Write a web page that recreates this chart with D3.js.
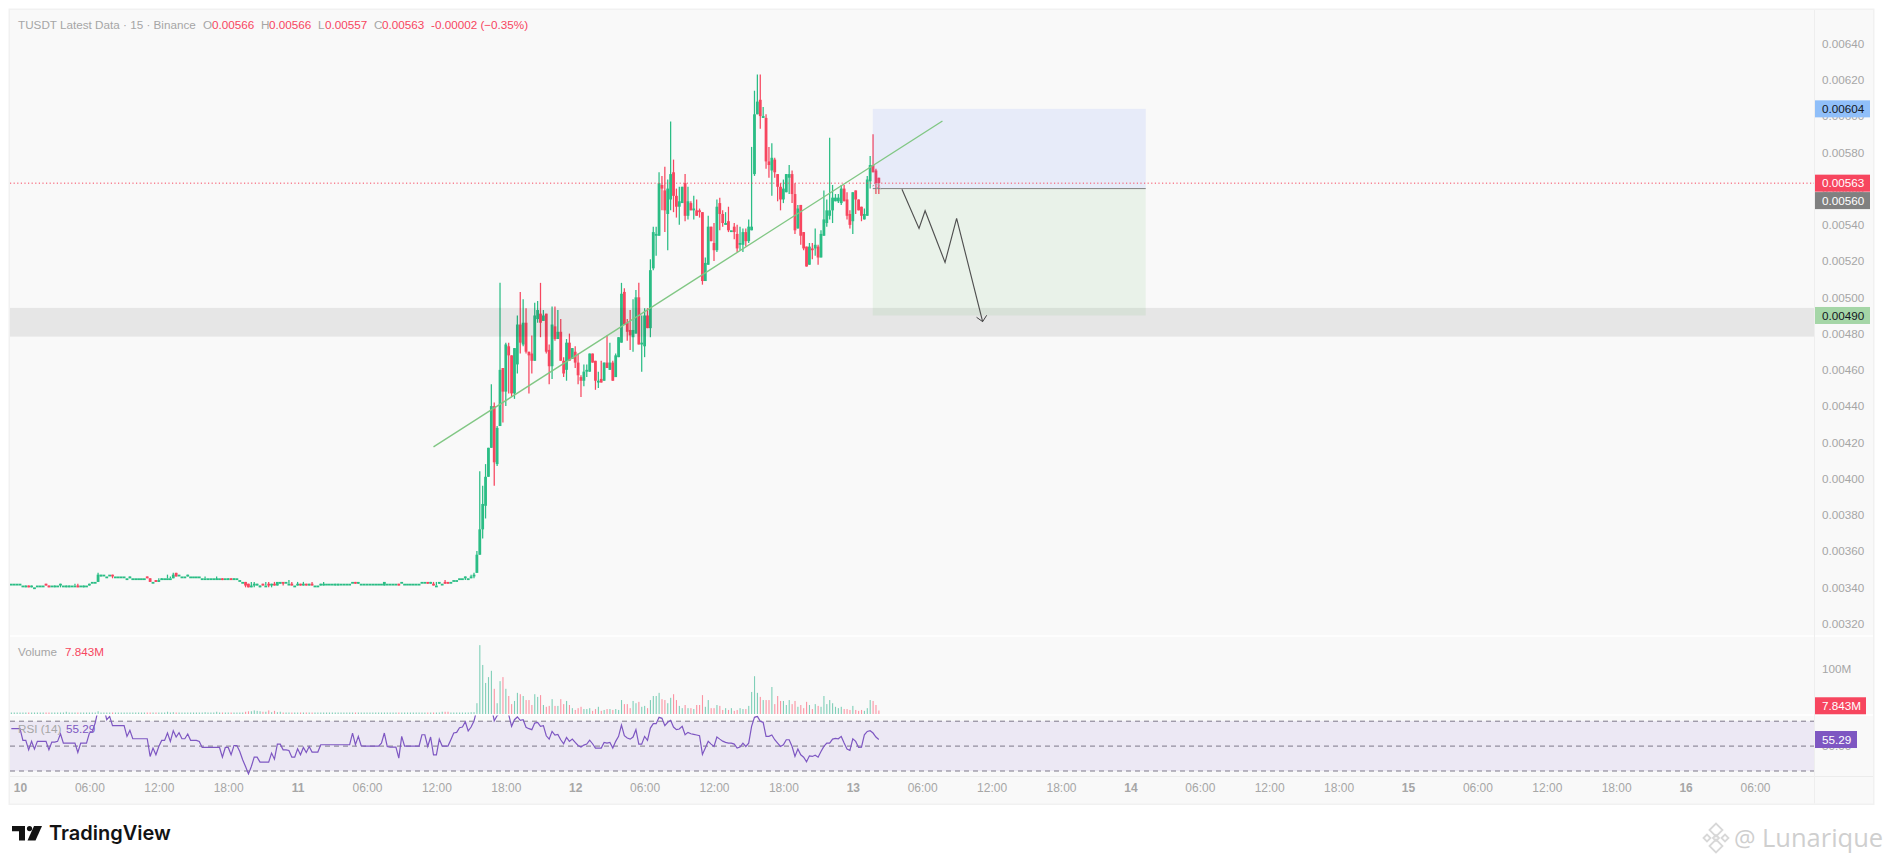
<!DOCTYPE html>
<html>
<head>
<meta charset="utf-8">
<title>TUSDT Latest Data</title>
<script src="https://cdn.jsdelivr.net/npm/d3@7"></script>
<style>
  html, body { margin: 0; padding: 0; background: #fff; }
  svg { display: block; font-family: "Liberation Sans", Arial, sans-serif; }
</style>
</head>
<body>
<div class="chart"></div>
<script>
const w = 1884;
const h = 864;

// prices are in units of 0.00001, one row = 10 bars, 15 minute candles
const firstBar = -3; // bar 0 is 10th 00:00
const opens = [
  342,342,342,342,341,341,341,340,340,341,
  341,341,342,341,341,341,341,341,341,340,
  340,341,341,341,341,340,341,341,343,343,
  343,346,347,346,347,347,346,346,346,346,
  345,345,345,345,345,345,345,346,345,343,
  344,343,344,345,345,345,345,348,347,346,
  346,346,346,346,346,346,345,345,345,345,
  345,345,345,345,345,344,345,344,345,344,
  343,343,342,340,341,341,341,342,341,342,
  341,342,341,342,343,343,342,342,341,341,
  342,341,342,341,342,341,341,341,341,342,
  342,342,342,342,342,342,342,342,343,343,
  342,342,342,342,342,342,342,342,342,341,
  342,342,342,342,342,343,342,342,342,342,
  342,342,343,343,343,342,342,341,342,342,
  343,343,343,344,344,345,345,345,345,346,
  347,348,358,372,385,401,417,440,408,429,
  461,448,473,468,447,463,485,474,486,470,
  469,465,488,491,487,491,471,462,484,477,
  481,465,460,475,466,470,464,456,454,459,
  459,469,465,453,455,454,464,460,464,456,
  467,475,503,486,482,478,480,500,474,473,
  490,483,516,534,534,562,559,546,554,569,
  556,550,552,563,545,552,548,548,548,547,
  509,518,539,530,526,552,546,540,542,537,
  539,535,529,529,536,531,537,568,601,609,
  599,599,575,570,576,568,561,554,558,566,
  568,557,538,551,536,528,518,527,527,528,
  522,534,541,545,548,553,553,552,560,554,
  546,542,559,554,550,543,545,564,573,570,
  566
];
const closes = [
  342,342,342,342,341,341,340,341,340,341,
  341,341,341,340,341,341,341,342,341,341,
  341,341,341,340,341,341,341,342,343,343,
  347,347,347,346,347,346,346,346,346,346,
  345,346,345,345,345,345,345,345,343,343,
  343,344,345,345,345,345,347,346,347,346,
  346,347,346,346,346,346,345,345,345,345,
  345,345,345,344,345,345,344,345,345,344,
  343,341,340,341,342,342,341,341,341,341,
  342,341,343,343,342,343,342,341,341,342,
  341,342,341,342,341,341,341,342,342,342,
  342,342,342,342,342,342,342,342,343,342,
  343,342,342,342,342,342,342,342,342,343,
  342,342,342,342,341,343,342,342,342,342,
  342,342,343,343,342,343,341,341,343,342,
  342,342,343,344,344,345,345,346,345,346,
  347,358,372,386,401,417,440,409,428,460,
  448,474,468,447,472,485,475,486,470,468,
  465,490,493,486,490,470,462,485,477,481,
  465,458,475,465,472,464,457,454,459,460,
  469,464,454,454,453,464,461,464,454,468,
  478,502,485,481,479,482,500,474,475,490,
  483,515,536,535,563,560,548,560,568,556,
  550,553,561,545,553,548,549,545,547,509,
  519,539,531,526,550,546,541,541,537,537,
  536,527,530,536,531,539,539,601,608,600,
  600,575,573,577,569,561,554,560,568,568,
  557,537,549,534,527,517,528,526,529,522,
  535,543,548,548,555,555,555,560,553,545,
  540,558,554,548,545,546,565,573,569,563,
  563
];
const highs = [
  342,342,342,342,341,341,341,341,340,341,
  341,341,342,341,341,341,341,342,341,341,
  341,341,342,342,341,341,341,342,343,343,
  348,347,347,346,347,347,346,346,346,346,
  345,346,345,345,345,345,345,346,345,343,
  344,345,345,345,347,346,348,348,347,346,
  346,347,346,346,346,346,345,346,345,345,
  345,346,345,345,345,345,345,345,345,344,
  343,343,342,343,343,342,341,342,343,343,
  342,343,343,343,343,343,344,343,341,343,
  342,343,342,342,343,341,341,342,343,342,
  342,342,342,342,342,342,342,342,343,343,
  343,342,342,342,342,342,342,342,342,343,
  342,342,342,342,342,343,342,342,342,342,
  342,342,343,343,343,343,343,343,343,342,
  344,343,343,344,344,345,345,346,345,347,
  348,360,404,396,408,417,452,442,429,508,
  461,475,475,468,472,490,503,499,494,470,
  479,497,498,508,493,491,474,495,495,493,
  488,467,477,480,472,473,469,457,463,463,
  469,469,465,459,465,464,479,475,465,469,
  478,508,505,488,493,499,504,508,490,494,
  494,521,539,539,569,567,572,565,597,576,
  560,561,561,568,561,553,556,554,549,547,
  522,545,539,541,554,555,548,547,550,537,
  541,540,539,538,538,543,583,614,623,623,
  605,601,583,585,577,568,563,565,568,573,
  570,563,551,551,536,528,530,530,538,529,
  537,559,554,588,562,557,557,562,562,558,
  548,558,559,554,550,549,567,578,590,571,
  566
];
const lows = [
  342,342,342,342,341,340,340,340,340,341,
  341,341,341,340,341,340,341,340,341,340,
  340,341,341,340,341,340,341,341,343,343,
  343,346,347,346,347,345,346,346,346,346,
  345,345,345,345,345,345,345,345,343,343,
  343,343,344,345,345,345,345,346,347,346,
  346,346,346,346,346,346,345,345,345,345,
  345,344,345,344,345,344,344,344,345,344,
  343,340,340,340,340,341,340,341,341,340,
  340,341,341,342,341,343,342,341,341,341,
  341,341,341,341,341,341,341,341,341,342,
  342,342,341,341,342,342,342,342,343,342,
  342,342,342,342,342,342,342,342,342,341,
  342,342,342,342,341,343,342,342,342,342,
  342,342,343,343,342,342,341,341,342,342,
  342,342,343,344,344,345,345,344,345,345,
  345,348,358,367,378,401,417,396,407,429,
  431,440,447,445,444,458,469,473,469,447,
  458,465,486,478,487,469,452,455,476,477,
  465,456,454,465,466,461,452,445,451,456,
  459,464,449,450,453,454,461,460,454,456,
  467,475,485,476,471,470,480,474,459,467,
  483,478,515,523,534,548,536,526,548,547,
  544,540,552,542,543,548,543,545,544,507,
  509,518,531,520,525,537,539,540,536,537,
  532,525,526,525,528,530,537,567,601,593,
  599,571,566,556,566,553,548,552,558,557,
  552,535,538,529,526,517,518,521,523,518,
  522,534,539,543,541,553,552,551,553,543,
  538,535,546,548,542,543,545,560,569,557,
  557
];
// millions
const volumes = [
  2,2,2,2,2,2,2,2,2,2,
  2,2,2,2,2,2,2,2,2,5,
  2,2,2,2,2,2,2,2,2,2,
  6,3,2,2,2,2,3,2,2,2,
  2,2,2,2,2,2,2,2,2,2,
  2,2,2,2,5,2,4,3,2,2,
  2,2,2,2,2,2,2,4,2,2,
  2,5,2,2,2,2,2,2,2,2,
  2,5,6,6,8,7,6,5,5,8,
  4,7,4,5,2,2,2,2,2,2,
  2,2,2,2,2,2,2,2,2,2,
  2,2,2,2,2,2,2,2,2,2,
  2,2,2,2,2,2,2,2,2,2,
  2,2,2,2,2,2,2,2,2,2,
  2,2,2,2,2,2,2,2,2,5,
  5,5,2,2,2,2,2,2,2,4,
  4,24,153,109,69,82,96,56,24,73,
  82,56,40,22,29,47,44,40,31,31,
  20,44,38,42,20,16,18,33,18,18,
  33,22,29,20,13,9,13,16,11,11,
  13,7,11,16,7,9,11,11,9,11,
  9,31,22,22,13,29,24,27,16,18,
  13,31,40,40,47,33,31,24,36,44,
  31,18,13,20,13,13,11,20,20,42,
  16,31,13,13,20,18,9,13,9,13,
  7,9,13,11,11,18,49,84,47,38,
  31,31,31,60,22,40,29,29,20,31,
  22,29,16,20,13,27,20,11,22,18,
  16,40,22,31,24,16,13,16,11,11,
  9,18,9,7,9,7,13,31,29,20,
  7.843
];
const rsi = [
  64,64,64,64,54.6,54.6,47,53.8,47.6,53.8,
  53.8,53.8,53.8,47,53.2,53.2,53.8,59.9,52.4,52.4,
  52.4,52.4,52.4,44.9,52.4,52.4,52.4,60.5,61.8,68.5,
  79.3,80.6,80.6,71.2,73.9,66.4,66.4,66.4,66.4,66.4,
  57.8,62.6,55.9,55.9,55.9,55.9,55.9,55.9,41.7,48.4,
  43,49.7,54.6,54.6,60.5,53.8,62.4,57.3,60.8,55.9,
  55.9,59.7,54.6,54.6,54.6,53.8,48.9,48.9,48.9,48.9,
  48.9,48.9,48.9,41.1,48.9,48.9,43,50.5,50.5,45.7,
  39,33.6,27.7,33.6,41.1,41.1,37.1,37.1,37.1,37.1,
  44.4,39.5,51.6,51.6,47,47,46.5,41.1,41.1,47.8,
  43,48.9,44.9,49.7,45.2,45.2,45.2,51.1,51.1,51.1,
  51.1,51.1,51.1,51.1,51.1,51.1,51.1,51.1,60.5,51.1,
  57.8,50.3,50,50,50,50,50,50,52.4,60.5,
  49.7,49.2,49.2,49.2,40.3,57.8,50,50,50,50,
  50,50,59.1,59.1,49.7,57.3,43,43,55.6,50,
  50,50,55.1,60.5,61,64.8,65.3,69.6,62.1,65.3,
  70.2,79.3,86,91.4,88.7,86,82,70.4,74.5,76.6,
  75.3,76.6,75.3,65.9,71.2,73.4,70.7,71.2,65.1,64,
  63.2,68.5,69.1,65.9,66.4,58.3,55.6,61.8,58.9,59.4,
  55.1,51.9,57,53.8,55.6,53,50.5,49.2,50.8,51.6,
  54.8,51.9,48.4,48.4,48.4,53,52.4,53,48.4,53.8,
  57.8,66.9,58.3,56.5,55.6,57.3,63.2,51.6,51.6,57.8,
  54.6,64.5,68,68,73.1,72.3,66.4,69.1,70.7,65.3,
  63.2,63.7,65.9,59.1,61,59.9,59.4,58.9,58.3,43.3,
  48.4,53.8,51.6,49.7,57.3,55.6,54,53,52.4,52.4,
  51.6,48.4,49.2,52.4,49.7,52.4,65.9,73.1,73.9,69.9,
  69.1,57.8,57.8,58.9,55.1,52.4,49.7,51.1,55.1,55.1,
  49.7,41.7,47.6,43,41.1,37.4,42.2,41.7,42.7,41.1,
  45.7,49.7,52.4,52.4,55.6,56.2,55.9,57.8,52.4,47.6,
  46.5,55.9,53.8,48.9,49.2,59.1,61.8,62.4,60.5,57.3,
  55.29
];

const priceTicks = [320,340,360,380,400,420,440,460,480,500,520,540,560,580,600,620,640];
const timeLabels = ['10','06:00','12:00','18:00','11','06:00','12:00','18:00','12','06:00','12:00','18:00','13','06:00','12:00','18:00','14','06:00','12:00','18:00','15','06:00','12:00','18:00','16','06:00'];
const timeTicks = timeLabels.map((d, i) => i * 24);
const rsiLevels = [70, 50, 30];

// drawings, [bar, price]
const lastPrice = 563;
const zone = [478.3, 494.2];
const position = { left: 294.9, right: 389.3, top: 604, entry: 560, target: 490 };
const trendBars = [143, 319];
const trendPrices = [417.5, 597.3];
const zigBars = [305, 310.9, 313, 319.9, 323.9, 332.9];
const zigPrices = [559.6, 538, 547.8, 519.3, 543.6, 486.6];
const headBars = [330.8, 332.9, 334.3];
const headPrices = [489, 486.6, 490.1];
const hintBars = [294.8, 296.3, 296.3, 296.9, 297.7];
const hintPrices = [561.4, 562.5, 559.6, 562.9, 559.6];

const green = '#2bbd85';
const red = '#f7465f';
const textGrey = '#a6a6a6';
const purple = '#7e57c2';

const paneLeft = 10;
const paneRight = 1814;

const svg = d3.select('.chart').append('svg').attr('width', w).attr('height', h);

// scales
const x = d3.scaleLinear().domain([0, 576]).range([20, 1685.6]);
const y = d3.scaleLinear().domain([320, 640]).range([623.6, 43.6]);
const yVol = d3.scaleLinear().domain([0, 100]).range([714, 669]);
const yRsi = d3.scaleLinear().domain([30, 70]).range([771, 721.2]);

const bars = opens.map((o, i) => ({
  bar: i + firstBar, o, c: closes[i], hi: highs[i], lo: lows[i], v: volumes[i], r: rsi[i]
}));

// background
svg.append('rect').attr('x', 8.5).attr('y', 8.5).attr('width', 1866).attr('height', 796.5).attr('fill', '#f1f1f1');
svg.append('rect').attr('x', paneLeft).attr('y', 10).attr('width', 1863).attr('height', 793.5).attr('fill', '#f9f9f9');

const defs = svg.append('defs');
defs.append('clipPath').attr('id', 'main-clip').append('rect')
  .attr('x', paneLeft).attr('y', 10).attr('width', paneRight - paneLeft).attr('height', 625);
defs.append('clipPath').attr('id', 'rsi-clip').append('rect')
  .attr('x', paneLeft).attr('y', 715.5).attr('width', paneRight - paneLeft).attr('height', 60);

// candles
const main = svg.append('g').attr('clip-path', 'url(#main-clip)');
main.append('g').selectAll('line').data(bars).enter().append('line')
  .attr('x1', (d) => x(d.bar)).attr('x2', (d) => x(d.bar))
  .attr('y1', (d) => y(d.hi)).attr('y2', (d) => y(d.lo))
  .attr('stroke', (d) => (d.c < d.o ? red : green)).attr('stroke-width', 1.25);
main.append('g').selectAll('rect').data(bars).enter().append('rect')
  .attr('x', (d) => x(d.bar) - 1.4).attr('width', 2.8)
  .attr('y', (d) => y(Math.max(d.o, d.c)))
  .attr('height', (d) => Math.max(1.8, Math.abs(y(d.o) - y(d.c))))
  .attr('fill', (d) => (d.c < d.o ? red : green));

// support zone
main.append('rect').attr('x', paneLeft).attr('width', paneRight - paneLeft)
  .attr('y', y(zone[1])).attr('height', y(zone[0]) - y(zone[1]))
  .attr('fill', '#000').attr('fill-opacity', 0.075);

// position tool
main.append('rect').attr('x', x(position.left)).attr('width', x(position.right) - x(position.left))
  .attr('y', y(position.top)).attr('height', y(position.entry) - y(position.top))
  .attr('fill', '#2962ff').attr('fill-opacity', 0.085);
main.append('rect').attr('x', x(position.left)).attr('width', x(position.right) - x(position.left))
  .attr('y', y(position.entry)).attr('height', y(position.target) - y(position.entry))
  .attr('fill', '#4caf50').attr('fill-opacity', 0.09);
main.append('line').attr('x1', x(position.left)).attr('x2', x(position.right))
  .attr('y1', y(position.entry)).attr('y2', y(position.entry))
  .attr('stroke', '#808080').attr('stroke-width', 1);

// last price
main.append('line').attr('x1', paneLeft).attr('x2', paneRight)
  .attr('y1', y(lastPrice)).attr('y2', y(lastPrice))
  .attr('stroke', red).attr('stroke-width', 1).attr('stroke-dasharray', '1.2 2.4');

// trend line
main.append('path')
  .attr('d', d3.line().x((d) => x(d)).y((d, i) => y(trendPrices[i]))(trendBars))
  .attr('fill', 'none').attr('stroke', '#81c784').attr('stroke-width', 1.4);

// projected path with arrow
const zigLine = d3.line().x((d) => x(d.b)).y((d) => y(d.p));
main.append('path')
  .attr('d', zigLine(zigBars.map((b, i) => ({ b, p: zigPrices[i] }))))
  .attr('fill', 'none').attr('stroke', '#505050').attr('stroke-width', 1.15);
main.append('path')
  .attr('d', zigLine(headBars.map((b, i) => ({ b, p: headPrices[i] }))))
  .attr('fill', 'none').attr('stroke', '#404040').attr('stroke-width', 1);
main.append('path')
  .attr('d', zigLine(hintBars.map((b, i) => ({ b, p: hintPrices[i] }))))
  .attr('fill', 'none').attr('stroke', '#a8a8a8').attr('stroke-width', 1).attr('stroke-dasharray', '2 1.5');

// volume bars
svg.append('g').selectAll('rect').data(bars).enter().append('rect')
  .attr('x', (d) => x(d.bar) - 0.5).attr('width', 1.1)
  .attr('y', (d) => Math.min(yVol(d.v), yVol(0) - 1.5))
  .attr('height', (d) => Math.max(1.5, yVol(0) - yVol(d.v)))
  .attr('fill', (d) => (d.c < d.o ? '#fb94a3' : '#80cfb8'));

// pane separators
[636, 715].forEach((sy) => {
  svg.append('line').attr('x1', paneLeft).attr('x2', 1873).attr('y1', sy).attr('y2', sy)
    .attr('stroke', '#fff').attr('stroke-width', 1.6);
});
svg.append('line').attr('x1', paneLeft).attr('x2', 1873).attr('y1', 776.5).attr('y2', 776.5).attr('stroke', '#ececec');
svg.append('line').attr('x1', paneRight + 0.5).attr('x2', paneRight + 0.5).attr('y1', 10).attr('y2', 803.5).attr('stroke', '#eeeeee');

// rsi pane
svg.append('rect').attr('x', paneLeft).attr('width', paneRight - paneLeft)
  .attr('y', yRsi(70)).attr('height', yRsi(30) - yRsi(70))
  .attr('fill', '#ece8f4');
svg.append('g').selectAll('line').data(rsiLevels).enter().append('line')
  .attr('x1', paneLeft).attr('x2', paneRight)
  .attr('y1', (d) => yRsi(d)).attr('y2', (d) => yRsi(d))
  .attr('stroke', '#7d7888').attr('stroke-width', 1).attr('stroke-dasharray', '5 4');
svg.append('g').attr('clip-path', 'url(#rsi-clip)').append('path')
  .attr('d', d3.line().x((d) => x(d.bar)).y((d) => yRsi(d.r))(bars))
  .attr('fill', 'none').attr('stroke', purple).attr('stroke-width', 1.2);

// axes
function styleAxis(g) {
  g.select('.domain').remove();
  g.selectAll('.tick line').remove();
  g.selectAll('text').attr('fill', textGrey).style('font-size', '11.7px')
    .style('font-family', '"Liberation Sans", Arial, sans-serif');
}
svg.append('g').attr('transform', `translate(${paneRight},0)`)
  .call(d3.axisRight(y).tickValues(priceTicks).tickSize(0).tickPadding(8).tickFormat((d) => (d / 1e5).toFixed(5)))
  .call(styleAxis);
svg.append('g').attr('transform', `translate(${paneRight},0)`)
  .call(d3.axisRight(yVol).tickValues([100]).tickSize(0).tickPadding(8).tickFormat((d) => d + 'M'))
  .call(styleAxis);
svg.append('g').attr('transform', `translate(${paneRight},0)`)
  .call(d3.axisRight(yRsi).tickValues([50]).tickSize(0).tickPadding(8).tickFormat((d) => d.toFixed(2)))
  .call(styleAxis);
svg.append('g').attr('transform', 'translate(0,777)')
  .call(d3.axisBottom(x).tickValues(timeTicks).tickSize(0).tickPadding(6).tickFormat((d, i) => timeLabels[i]))
  .call(styleAxis)
  .selectAll('text')
  .style('font-size', '12px')
  .style('font-weight', (d, i) => (timeLabels[i].length < 3 ? 700 : 400));

// price badges, the 0.00560 and 7.843M ones get pushed off their level so they do not cover a neighbour
function badge(label, sy, bw, fill, color) {
  svg.append('rect').attr('x', 1815).attr('y', sy - 8.5).attr('width', bw).attr('height', 17).attr('fill', fill);
  svg.append('text').attr('x', 1822).attr('y', sy + 4.2).attr('fill', color)
    .style('font-size', '11.7px').text(label);
}
badge('0.00604', y(604), 55, '#90bff9', '#131722');
badge('0.00490', y(490), 55, '#a5d6a7', '#131722');
badge('0.00563', y(563), 55, red, '#fff');
badge('0.00560', y(560) + 12, 55, '#808080', '#fff');
badge('7.843M', yVol(7.843) - 4.7, 51, red, '#fff');
badge('55.29', yRsi(55.29), 42, purple, '#fff');

// legends
function legend(runs, ly) {
  runs.forEach((r) => {
    svg.append('text').attr('x', r[0]).attr('y', ly).attr('fill', r[2]).style('font-size', '11.7px').text(r[1]);
  });
}
legend([
  [18, 'TUSDT Latest Data · 15 · Binance', textGrey],
  [203, 'O', textGrey], [212, '0.00566', red],
  [261, 'H', textGrey], [269, '0.00566', red],
  [318, 'L', textGrey], [325, '0.00557', red],
  [374, 'C', textGrey], [382, '0.00563', red],
  [431, '-0.00002 (−0.35%)', red]
], 29);
legend([[18, 'Volume', textGrey], [65, '7.843M', red]], 656);
legend([[18, 'RSI (14)', textGrey], [66, '55.29', purple]], 733);

// logo
const logo = svg.append('g').attr('fill', '#131313');
logo.append('path').attr('d', 'M12 826h13v14.5h-6v-9.3h-7z');
logo.append('circle').attr('cx', 29.5).attr('cy', 828.6).attr('r', 2.6);
logo.append('path').attr('d', 'M34 826h8l-6.5 14.5h-8z');
svg.append('text').attr('x', 49).attr('y', 840).attr('fill', '#131313')
  .style('font-family', 'Inter, Roboto, sans-serif').style('font-weight', 600).style('font-size', '20px')
  .text('TradingView');

// watermark
const mark = svg.append('g').attr('fill', 'none').attr('stroke', '#d8d8d8').attr('stroke-width', 1.8);
[[1716, 830, 6.5], [1707, 838, 3.5], [1725, 838, 3.5], [1716, 846, 6.5], [1716, 838, 3]].forEach((c) => {
  mark.append('path').attr('d', `M${c[0] - c[2]} ${c[1]}L${c[0]} ${c[1] - c[2]}L${c[0] + c[2]} ${c[1]}L${c[0]} ${c[1] + c[2]}Z`);
});
svg.append('text').attr('x', 1734).attr('y', 847).attr('fill', '#cfcfcf')
  .style('font-family', '"Open Sans", sans-serif').style('font-size', '24px').text('@');
svg.append('text').attr('x', 1762).attr('y', 847).attr('fill', '#cfcfcf')
  .style('font-family', '"Open Sans", sans-serif').style('font-size', '25.5px').text('Lunarique');
</script>
</body>
</html>
